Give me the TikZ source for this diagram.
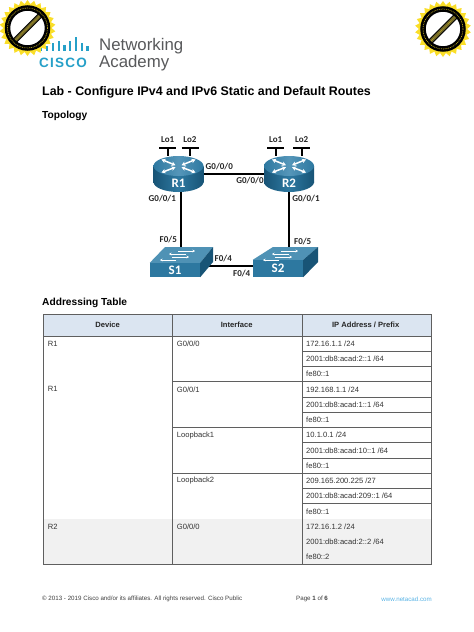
\documentclass[tikz,border=0pt]{standalone}
\usepackage{fontspec}
\usepackage{tikz}
\usepackage{xcolor}
\setmainfont{Liberation Sans}
\newfontfamily\labelfont{Carlito}
\newfontfamily\logofont[LetterSpace=9]{Liberation Sans}
\usetikzlibrary{arrows.meta,calc,positioning,shapes.geometric}
\definecolor{headblue}{RGB}{219,229,241}
\definecolor{rulegray}{RGB}{95,95,95}
\definecolor{bandgray}{RGB}{241,241,241}
\definecolor{ciscoteal}{RGB}{38,160,200}
\definecolor{logogray}{RGB}{88,89,91}
\definecolor{webblue}{RGB}{90,180,230}
\definecolor{sealyellow}{RGB}{250,222,40}
\definecolor{sealolive}{RGB}{110,100,40}
\definecolor{netdark}{RGB}{24,84,118}
\definecolor{netmid}{RGB}{45,120,160}
\definecolor{netlight}{RGB}{85,150,185}
\tikzset{
  cell/.style={anchor=west, inner sep=0pt, font=\fontsize{7.6}{9}\selectfont, text=black!80},
  headcell/.style={inner sep=0pt, font=\fontsize{7.6}{9}\selectfont\bfseries, text=black!85},
  rowrule/.style={draw=rulegray, line width=0.8pt},
  heading/.style={anchor=west, inner sep=0pt, font=\fontsize{10.2}{12}\selectfont\bfseries},
  link/.style={draw=black, line width=1.9pt},
  portlab/.style={inner sep=0pt, font=\labelfont\fontsize{9}{10}\selectfont\bfseries, text=black!85},
  devlab/.style={inner sep=0pt, text=white, font=\labelfont\fontsize{13}{14}\selectfont\bfseries},
  rtrbox/.style={minimum width=50pt, minimum height=36pt, inner sep=0pt},
  swbox/.style={fill=netmid, inner sep=0pt, text=white, font=\labelfont\fontsize{13}{14}\selectfont\bfseries},
  swarrow/.style={-{Stealth[length=2.5pt,width=2.5pt]}, draw=white, line width=1pt},
  rtrarrow/.style={{Stealth[length=4pt,width=4.5pt]}-{Stealth[length=4pt,width=4.5pt]}, draw=white, line width=1.5pt},
  footer/.style={anchor=west, inner sep=0pt, font=\fontsize{6.2}{8}\selectfont, text=black!75}
}
\begin{document}
\begin{tikzpicture}[x=1pt, y=-1pt]
\useasboundingbox (0,0) rectangle (474,632);
\fill[white] (0,0) rectangle (474,632);
% logo
\foreach \x/\h in {41/3,47/5,53/8,59/10,64.5/6,70/10,76/14,82/8,87.5/5} {
  \fill[ciscoteal] (\x-1.1,50.5) rectangle (\x+1.1,50.5-\h);
}
\node[anchor=base west, inner sep=0pt, text=ciscoteal, font=\logofont\fontsize{13.5}{14}\selectfont\bfseries] (cisco) at (39,67) {CISCO};
\node[anchor=base west, inner sep=0pt, text=logogray, font=\fontsize{16.8}{18}\selectfont] (netw) at (99,50) {Networking};
\node[anchor=base west, inner sep=0pt, text=logogray, font=\fontsize{16.8}{18}\selectfont] (acad) at (99,67) {Academy};
% seals
\foreach \n/\cx/\cy in {a/27.5/28,b/443/29} {
  \node[star, star points=26, star point ratio=1.16, fill=sealyellow, minimum size=56pt, inner sep=0pt] (seal\n) at (\cx,\cy) {};
  \fill[white] (\cx,\cy) circle[radius=20];
  \begin{scope}[shift={(\cx,\cy)}]
  \draw[black, line width=5.5pt] (-13,13) -- (13,-13);
  \draw[sealolive, line width=3.2pt] (-13,13) -- (13,-13);
  \draw[sealyellow!80!black, line width=0.5pt, dash pattern=on 0.8pt off 0.8pt] (-13,13) -- (13,-13);
  \end{scope}
  \draw[black, line width=5.5pt] (\cx,\cy) circle[radius=20];
  \draw[sealyellow!75!black, line width=0.7pt, dash pattern=on 0.9pt off 0.9pt] (\cx,\cy) circle[radius=20];
}
% headings
\node[anchor=west, inner sep=0pt, font=\fontsize{12.4}{15}\selectfont\bfseries] (title) at (42,92) {Lab - Configure IPv4 and IPv6 Static and Default Routes};
\node[heading] (topo) at (42,116) {Topology};
\node[heading] (addr) at (42,303) {Addressing Table};
% routers
\foreach \n/\x in {1/178.5,2/289} {
  \node[rtrbox] (r\n) at (\x,174) {};
  \shade[left color=netdark, right color=netdark, middle color=netmid] (\x,182) ellipse[x radius=25, y radius=10];
  \shade[left color=netdark, right color=netdark, middle color=netmid] (\x-25,166) rectangle (\x+25,182);
  \shade[left color=netmid, right color=netmid, middle color=netlight] (\x,166) ellipse[x radius=25, y radius=10];
  \draw[rtrarrow] (\x-17,159.5) -- (\x-3,165.2);
  \draw[rtrarrow] (\x+3,167.2) -- (\x+17,172.5);
  \draw[rtrarrow] (\x-17,172.5) -- (\x-3,167.2);
  \draw[rtrarrow] (\x+3,165.2) -- (\x+17,159.5);
  \node[devlab] (r\n lab) at (\x,183.3) {R\n};
}
% switches
\node[swbox, minimum width=50pt, minimum height=14pt] (s1) at (175,270) {S1};
\node[swbox, minimum width=50pt, minimum height=17pt] (s2) at (278,268.5) {S2};
% links
\draw[link] (r1.east) -- (r2.west);
\draw[link] ([xshift=2.5pt]r1.south) -- ([xshift=6pt]s1.north);
\draw[link] (r2.south) -- ([xshift=11pt]s2.north);
\draw[link] ([yshift=4pt]s1.east) -- ([yshift=2.5pt]s2.west);
% switch tops
\fill[netlight!85!netmid] (s1.north west) -- (165,247) -- (213,247) -- (s1.north east) -- cycle;
\fill[netdark] (s1.north east) -- (213,247) -- (213,262) -- (s1.south east) -- cycle;
\fill[netlight!85!netmid] (s2.north west) -- (273,247) -- (318,247) -- (s2.north east) -- cycle;
\fill[netdark] (s2.north east) -- (318,247) -- (318,262) -- (s2.south east) -- cycle;
\foreach \dx/\sx in {0/1,103/1} {
  \draw[swarrow] (\dx+178,251) -- (\dx+195,251);
  \draw[swarrow] (\dx+186,254) -- (\dx+169,254);
  \draw[swarrow] (\dx+172,257) -- (\dx+189,257);
  \draw[swarrow] (\dx+176,260) -- (\dx+160,260);
}
% lo stubs
\foreach \n/\a/\b in {1/167.7/190,2/275.7/301.7} {
  \foreach \lo/\x in {1/\a,2/\b} {
    \node[portlab] (r\n lo\lo) at (\x,140) {Lo\lo};
    \coordinate (r\n bar\lo) at (\x,148.3);
    \draw[link] (r\n bar\lo) -- (r\n bar\lo |- r\n.north);
    \draw[link] ([xshift=-8.5pt]r\n bar\lo) -- ([xshift=8.5pt]r\n bar\lo);
  }
}
% port labels
\node[portlab] (p1) at (219.3,166.7) {G0/0/0};
\node[portlab] (p2) at (250,180.7) {G0/0/0};
\node[portlab] (p3) at (162.3,199) {G0/0/1};
\node[portlab] (p4) at (306,199) {G0/0/1};
\node[portlab] (p5) at (168.3,240) {F0/5};
\node[portlab] (p6) at (302.7,241.7) {F0/5};
\node[portlab] (p7) at (223.3,258.3) {F0/4};
\node[portlab] (p8) at (241.7,273.3) {F0/4};
% table
\fill[bandgray] (43.5,519) rectangle (431,564.75);
\fill[headblue] (43.5,314) rectangle (431,336);
\node[headcell] (hdev) at (107.7,324.5) {Device};
\node[headcell] (hint) at (236.7,324.5) {Interface};
\node[headcell] (hip) at (365.7,324.5) {IP Address / Prefix};
\foreach \i/\ip in {0/{172.16.1.1 /24},1/{2001:db8:acad:2::1 /64},2/{fe80::1},3/{192.168.1.1 /24},4/{2001:db8:acad:1::1 /64},5/{fe80::1},6/{10.1.0.1 /24},7/{2001:db8:acad:10::1 /64},8/{fe80::1},9/{209.165.200.225 /27},10/{2001:db8:acad:209::1 /64},11/{fe80::1},12/{172.16.1.2 /24},13/{2001:db8:acad:2::2 /64},14/{fe80::2}} {
  \node[cell] (ip\i) at (306,343.6+15.25*\i) {\ip};
}
\foreach \i/\d in {0/R1,3/R1,12/R2} {
  \node[cell] (dev\i) at (47.7,343.6+15.25*\i) {\d};
}
\foreach \i/\d in {0/G0\slash 0\slash 0,3/G0\slash 0\slash 1,6/Loopback1,9/Loopback2,12/G0\slash 0\slash 0} {
  \node[cell] (if\i) at (176.7,343.6+15.25*\i) {\d};
}
\foreach \i in {1,...,11} {
  \draw[rowrule] (302,336+15.25*\i) -- (431,336+15.25*\i);
}
\foreach \i in {3,6,9} {
  \draw[rowrule] (172.5,336+15.25*\i) -- (302,336+15.25*\i);
}
\draw[rowrule] (43.5,336) -- (431,336);
\draw[rowrule] (43.5,314) rectangle (431,564.75);
\draw[rowrule] (172.5,314) -- (172.5,564.75);
\draw[rowrule] (302,314) -- (302,564.75);
% footer
\node[footer] (copy) at (42,599) {© 2013 - 2019 Cisco and/or its affiliates. All rights reserved. Cisco Public};
\node[footer] (page) at (296,599) {Page \textbf{1} of \textbf{6}};
\node[footer, anchor=east, text=webblue] (web) at (432,599) {www.netacad.com};
\end{tikzpicture}
\end{document}
